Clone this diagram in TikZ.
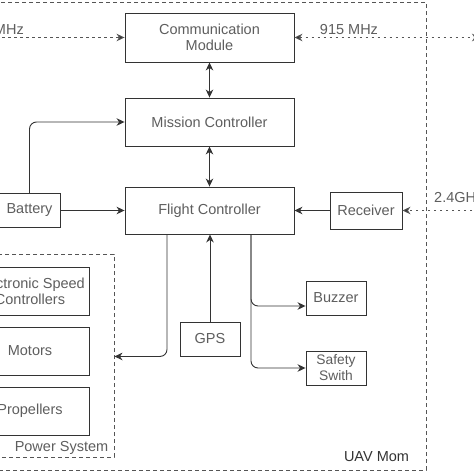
\documentclass[tikz,border=0pt]{standalone}
\usepackage{fontspec}
\setmainfont{Liberation Sans}
\usetikzlibrary{arrows.meta}
\definecolor{txt}{HTML}{5E5E5E}
\definecolor{ln}{HTML}{333333}
\definecolor{dsh}{HTML}{555555}
\tikzset{
  every node/.style={font=\fontsize{14.5}{16}\selectfont, text=txt},
  box/.style={draw=ln, line width=0.9pt, inner sep=0pt, align=center, rectangle},
  conn/.style={draw=ln, line width=0.9pt},
  tip/.tip={Stealth[length=8pt,width=7.5pt,inset=2.5pt]},
  arr/.style={conn, -tip},
  arrs/.style={conn, tip-tip},
  radio/.style={draw=dsh, line width=0.9pt, dash pattern=on 2.5pt off 3.5pt},
  grp/.style={draw=dsh, line width=0.9pt, dash pattern=on 4pt off 3pt, rectangle, inner sep=0pt},
}
\begin{document}
\begin{tikzpicture}[x=1pt,y=-1pt]
\useasboundingbox (0,0) rectangle (474,474);
\clip (0,0) rectangle (474,474);
\fill[white] (0,0) rectangle (474,474);
% groups
\node[grp, minimum width=476pt, minimum height=468pt] (uav) at (188,236) {};
\node[grp, minimum width=154pt, minimum height=203pt] (ps) at (37,355.5) {};
% boxes
\node[box, minimum width=169pt, minimum height=49pt] (cm) at (209.5,37.5) {Communication\\Module};
\node[box, minimum width=169pt, minimum height=48pt] (mc) at (209.5,122) {Mission Controller};
\node[box, minimum width=169pt, minimum height=47pt] (fc) at (209.5,210.5) {Flight Controller};
\node[box, minimum width=61pt, minimum height=34pt] (bat) at (29.5,210.5) {Battery};
\node[box, minimum width=72pt, minimum height=37pt] (rx) at (366,210.5) {Receiver};
\node[box, minimum width=60pt, minimum height=34pt] (buz) at (336,298) {Buzzer};
\node[box, minimum width=60pt, minimum height=34pt, font=\fontsize{13.8}{16}\selectfont] (ss) at (336,368) {Safety\\Swith};
\node[box, minimum width=60pt, minimum height=34pt] (gps) at (210,339) {GPS};
\node[box, minimum width=118pt, minimum height=48pt] (esc) at (30,291) {Electronic Speed\\Controllers};
\node[box, minimum width=118pt, minimum height=48pt] (mot) at (30,351) {Motors};
\node[box, minimum width=118pt, minimum height=48pt] (prop) at (30,411) {Propellers};
% labels
\node[inner sep=0pt] (lps) at (61.5,448) {Power System};
\node[inner sep=0pt, text=ln] (luav) at (376.5,457) {UAV Mom};
\node[inner sep=0pt, anchor=east] (l915a) at (24,30) {915 MHz};
\node[inner sep=0pt] (l915b) at (349,30) {915 MHz};
\node[inner sep=0pt, anchor=west] (l24) at (434,198) {2.4GHz};
% free ends
\coordinate (wl) at (-10,37.5);
\coordinate (wr) at (480,37.5);
\coordinate (wr2) at (490,210.5);
% radio links
\draw[radio, -{tip[fill=ln]}] (wl) -- (cm.west);
\draw[radio, {tip[fill=ln]}-{tip[fill=ln]}] (cm.east) -- (wr);
\draw[radio, -{tip[fill=ln]}] (wr2) -- (rx.east);
% internal
\draw[arrs] (cm.south) -- (mc.north);
\draw[arrs] (mc.south) -- (fc.north);
\draw[arr, rounded corners=7pt] (bat.north) |- (mc.west);
\draw[arr] (bat.east) -- (fc.west |- bat.east);
\draw[arr] (rx.west) -- (fc.east |- rx.west);
\draw[arr] (gps.north) -- (gps.north |- fc.south);
\draw[arr, rounded corners=7pt] ([xshift=-42.5pt]fc.south) |- (ps.east |- gps.south);
\draw[arr, rounded corners=7pt] ([xshift=41.5pt]fc.south) |- ([yshift=-8pt]buz.west);
\draw[arr, rounded corners=7pt] ([xshift=41.5pt]fc.south) |- (ss.west);
\end{tikzpicture}
\end{document}
